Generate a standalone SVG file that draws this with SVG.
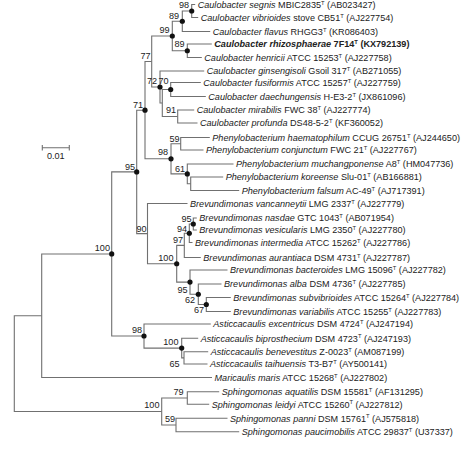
<svg xmlns="http://www.w3.org/2000/svg" width="474" height="450" viewBox="0 0 474 450">
<style>
text{font-family:"Liberation Sans",Arial,sans-serif;font-size:9.1px;fill:#222}
.i{font-style:italic}
.b{font-weight:bold}
.s{font-size:5.8px}
.bs{text-anchor:end}
.c path{fill:none;stroke:#707070;stroke-width:1.1}
.d{fill:#111}
</style>
<rect width="474" height="450" fill="#fff"/>
<g class="c" id="connectors">
<path d="M195.2 4.5H191.7V17.5H198.2"/>
<path d="M191.7 11H182.3V31.5H210.2"/>
<path d="M211.8 44H187.3V57.5H201.8"/>
<path d="M182.3 21.25H172.3V50.75H187.3"/>
<path d="M200.8 82.5H170.7V96.5H205.8"/>
<path d="M194.2 110H177.7V123H197.5"/>
<path d="M170.7 89.5H162.3V116.5H177.7"/>
<path d="M204.2 71H160V103H162.3"/>
<path d="M172.3 36H151.7V87H160"/>
<path d="M209.8 137.5H180.7V150H203.5"/>
<path d="M223.2 177H190.7V190.5H239.2"/>
<path d="M233.5 164H187.3V183.75H190.7"/>
<path d="M180.7 143.75H171V173.9H187.3"/>
<path d="M151.7 61.5H145V158.8H171"/>
<path d="M196.8 218H193.3V230H196.8"/>
<path d="M193.3 224H189.3V242.5H192.5"/>
<path d="M189.3 233.25H184.3V257.5H200.8"/>
<path d="M230.8 297.5H206.3V311.5H230.8"/>
<path d="M221.5 284H198.3V304.5H206.3"/>
<path d="M227.5 270H190V294.25H198.3"/>
<path d="M184.3 245.4H176.7V282.1H190"/>
<path d="M187.5 203.5H147.5V263.75H176.7"/>
<path d="M145 110.2H136.7V233.6H147.5"/>
<path d="M208.2 351.7H184V364H207.5"/>
<path d="M198.2 338.3H181.7V357.85H184"/>
<path d="M210.8 324H144V348.1H181.7"/>
<path d="M136.7 171.9H111.7V336H144"/>
<path d="M111.7 253.95H41.7V377.5H212"/>
<path d="M219.2 391.7H187.3V404.3H209.2"/>
<path d="M227.5 418.3H176V431.7H239.2"/>
<path d="M187.3 398H161.7V425H176"/>
<path d="M41.7 315.7H14.3V411.5H161.7"/>
<path d="M42.3 147.7H69.3M42.3 145V150.4M69.3 145V150.4"/>
</g>
<g id="scale"><text x="55.8" y="159.3" text-anchor="middle">0.01</text></g>
<g id="internal">
<g id="n98a"><circle class="d" cx="191.7" cy="11" r="2.6"/><text class="bs" x="189" y="8.3">98</text></g>
<g id="n89a"><circle class="d" cx="182.3" cy="21.25" r="2.6"/><text class="bs" x="179" y="19">89</text></g>
<g id="n99"><circle class="d" cx="172.3" cy="36" r="2.6"/><text class="bs" x="169.5" y="32.5">99</text></g>
<g id="n89b"><circle class="d" cx="187.3" cy="50.75" r="2.6"/><text class="bs" x="184.5" y="47.3">89</text></g>
<g id="n77"><text class="bs" x="150.5" y="59">77</text></g>
<g id="n72"><circle class="d" cx="160" cy="87" r="2.6"/><text class="bs" x="157" y="84.2">72</text></g>
<g id="n70"><circle class="d" cx="170.7" cy="89.5" r="2.6"/><text class="bs" x="168.7" y="83.5">70</text></g>
<g id="n91"><text class="bs" x="176" y="113.2">91</text></g>
<g id="n71"><circle class="d" cx="145" cy="110.2" r="2.6"/><text class="bs" x="143" y="108.2">71</text></g>
<g id="n59p"><text class="bs" x="179.5" y="142.2">59</text></g>
<g id="n98p"><circle class="d" cx="171" cy="158.8" r="2.6"/><text class="bs" x="168" y="155">98</text></g>
<g id="n61"><circle class="d" cx="187.3" cy="173.9" r="2.6"/><text class="bs" x="185" y="171.5">61</text></g>
<g id="n95"><circle class="d" cx="136.7" cy="171.9" r="2.6"/><text class="bs" x="135" y="170">95</text></g>
<g id="n90"><text class="bs" x="146.5" y="231.5">90</text></g>
<g id="n95s"><circle class="d" cx="193.3" cy="224" r="2.6"/><text class="bs" x="191.5" y="221.5">95</text></g>
<g id="n94"><circle class="d" cx="189.3" cy="233.25" r="2.6"/><text class="bs" x="187" y="231.5">94</text></g>
<g id="n97"><text class="bs" x="183" y="243.2">97</text></g>
<g id="n100b"><circle class="d" cx="176.7" cy="263.75" r="2.6"/><text class="bs" x="173.5" y="260.5">100</text></g>
<g id="n95b"><circle class="d" cx="190" cy="282.1" r="2.6"/><text class="bs" x="187.7" y="292.5">95</text></g>
<g id="n62"><circle class="d" cx="198.3" cy="294.25" r="2.6"/><text class="bs" x="195" y="303.2">62</text></g>
<g id="n67"><circle class="d" cx="206.3" cy="304.5" r="2.6"/><text class="bs" x="204" y="312.5">67</text></g>
<g id="n100u"><circle class="d" cx="111.7" cy="253.95" r="2.6"/><text class="bs" x="110" y="251">100</text></g>
<g id="n98a2"><circle class="d" cx="144" cy="336" r="2.6"/><text class="bs" x="142" y="333.2">98</text></g>
<g id="n100a"><circle class="d" cx="181.7" cy="348.1" r="2.6"/><text class="bs" x="178.5" y="345">100</text></g>
<g id="n65"><text class="bs" x="179.5" y="366.5">65</text></g>
<g id="n100s"><text class="bs" x="159.5" y="408.2">100</text></g>
<g id="n79"><text class="bs" x="183.5" y="395">79</text></g>
<g id="n59s"><text class="bs" x="175" y="421.5">59</text></g>
</g>
<g id="leaves">
<g id="l1"><text x="197.7" y="7.8"><tspan class="i">Caulobacter segnis</tspan> MBIC2835<tspan class="s" dy="-3.3">T</tspan><tspan dy="3.3"> (AB023427)</tspan></text></g>
<g id="l2"><text x="200.7" y="20.8"><tspan class="i">Caulobacter vibrioides</tspan> stove CB51<tspan class="s" dy="-3.3">T</tspan><tspan dy="3.3"> (AJ227754)</tspan></text></g>
<g id="l3"><text x="212.7" y="34.8"><tspan class="i">Caulobacter flavus</tspan> RHGG3<tspan class="s" dy="-3.3">T</tspan><tspan dy="3.3"> (KR086403)</tspan></text></g>
<g id="l4"><text class="b" x="214.3" y="47.3"><tspan class="i">Caulobacter rhizosphaerae</tspan> 7F14<tspan class="s" dy="-3.3">T</tspan><tspan dy="3.3"> (KX792139)</tspan></text></g>
<g id="l5"><text x="204.3" y="60.8"><tspan class="i">Caulobacter henricii</tspan> ATCC 15253<tspan class="s" dy="-3.3">T</tspan><tspan dy="3.3"> (AJ227758)</tspan></text></g>
<g id="l6"><text x="206.7" y="74.3"><tspan class="i">Caulobacter ginsengisoli</tspan> Gsoil 317<tspan class="s" dy="-3.3">T</tspan><tspan dy="3.3"> (AB271055)</tspan></text></g>
<g id="l7"><text x="203.3" y="85.8"><tspan class="i">Caulobacter fusiformis</tspan> ATCC 15257<tspan class="s" dy="-3.3">T</tspan><tspan dy="3.3"> (AJ227759)</tspan></text></g>
<g id="l8"><text x="208.3" y="99.8"><tspan class="i">Caulobacter daechungensis</tspan> H-E3-2<tspan class="s" dy="-3.3">T</tspan><tspan dy="3.3"> (JX861096)</tspan></text></g>
<g id="l9"><text x="196.7" y="113.3"><tspan class="i">Caulobacter mirabilis</tspan> FWC 38<tspan class="s" dy="-3.3">T</tspan><tspan dy="3.3"> (AJ227774)</tspan></text></g>
<g id="l10"><text x="200" y="126.3"><tspan class="i">Caulobacter profunda</tspan> DS48-5-2<tspan class="s" dy="-3.3">T</tspan><tspan dy="3.3"> (KF360052)</tspan></text></g>
<g id="l11"><text x="212.3" y="140.8"><tspan class="i">Phenylobacterium haematophilum</tspan> CCUG 26751<tspan class="s" dy="-3.3">T</tspan><tspan dy="3.3"> (AJ244650)</tspan></text></g>
<g id="l12"><text x="206" y="153.3"><tspan class="i">Phenylobacterium conjunctum</tspan> FWC 21<tspan class="s" dy="-3.3">T</tspan><tspan dy="3.3"> (AJ227767)</tspan></text></g>
<g id="l13"><text x="236" y="167.3"><tspan class="i">Phenylobacterium muchangponense</tspan> A8<tspan class="s" dy="-3.3">T</tspan><tspan dy="3.3"> (HM047736)</tspan></text></g>
<g id="l14"><text x="225.7" y="180.3"><tspan class="i">Phenylobacterium koreense</tspan> Slu-01<tspan class="s" dy="-3.3">T</tspan><tspan dy="3.3"> (AB166881)</tspan></text></g>
<g id="l15"><text x="241.7" y="193.8"><tspan class="i">Phenylobacterium falsum</tspan> AC-49<tspan class="s" dy="-3.3">T</tspan><tspan dy="3.3"> (AJ717391)</tspan></text></g>
<g id="l16"><text x="190" y="206.8"><tspan class="i">Brevundimonas vancanneytii</tspan> LMG 2337<tspan class="s" dy="-3.3">T</tspan><tspan dy="3.3"> (AJ227779)</tspan></text></g>
<g id="l17"><text x="199.3" y="221.3"><tspan class="i">Brevundimonas nasdae</tspan> GTC 1043<tspan class="s" dy="-3.3">T</tspan><tspan dy="3.3"> (AB071954)</tspan></text></g>
<g id="l18"><text x="199.3" y="233.3"><tspan class="i">Brevundimonas vesicularis</tspan> LMG 2350<tspan class="s" dy="-3.3">T</tspan><tspan dy="3.3"> (AJ227780)</tspan></text></g>
<g id="l19"><text x="195" y="245.8"><tspan class="i">Brevundimonas intermedia</tspan> ATCC 15262<tspan class="s" dy="-3.3">T</tspan><tspan dy="3.3"> (AJ227786)</tspan></text></g>
<g id="l20"><text x="203.3" y="260.8"><tspan class="i">Brevundimonas aurantiaca</tspan> DSM 4731<tspan class="s" dy="-3.3">T</tspan><tspan dy="3.3"> (AJ227787)</tspan></text></g>
<g id="l21"><text x="230" y="273.3"><tspan class="i">Brevundimonas bacteroides</tspan> LMG 15096<tspan class="s" dy="-3.3">T</tspan><tspan dy="3.3"> (AJ227782)</tspan></text></g>
<g id="l22"><text x="224" y="287.3"><tspan class="i">Brevundimonas alba</tspan> DSM 4736<tspan class="s" dy="-3.3">T</tspan><tspan dy="3.3"> (AJ227785)</tspan></text></g>
<g id="l23"><text x="233.3" y="300.8"><tspan class="i">Brevundimonas subvibrioides</tspan> ATCC 15264<tspan class="s" dy="-3.3">T</tspan><tspan dy="3.3"> (AJ227784)</tspan></text></g>
<g id="l24"><text x="233.3" y="314.8"><tspan class="i">Brevundimonas variabilis</tspan> ATCC 15255<tspan class="s" dy="-3.3">T</tspan><tspan dy="3.3"> (AJ227783)</tspan></text></g>
<g id="l25"><text x="213.3" y="327.3"><tspan class="i">Asticcacaulis excentricus</tspan> DSM 4724<tspan class="s" dy="-3.3">T</tspan><tspan dy="3.3"> (AJ247194)</tspan></text></g>
<g id="l26"><text x="200.7" y="341.6"><tspan class="i">Asticcacaulis biprosthecium</tspan> DSM 4723<tspan class="s" dy="-3.3">T</tspan><tspan dy="3.3"> (AJ247193)</tspan></text></g>
<g id="l27"><text x="210.7" y="355"><tspan class="i">Asticcacaulis benevestitus</tspan> Z-0023<tspan class="s" dy="-3.3">T</tspan><tspan dy="3.3"> (AM087199)</tspan></text></g>
<g id="l28"><text x="210" y="367.3"><tspan class="i">Asticcacaulis taihuensis</tspan> T3-B7<tspan class="s" dy="-3.3">T</tspan><tspan dy="3.3"> (AY500141)</tspan></text></g>
<g id="l29"><text x="214.5" y="380.8"><tspan class="i">Maricaulis maris</tspan> ATCC 15268<tspan class="s" dy="-3.3">T</tspan><tspan dy="3.3"> (AJ227802)</tspan></text></g>
<g id="l30"><text x="221.7" y="395"><tspan class="i">Sphingomonas aquatilis</tspan> DSM 15581<tspan class="s" dy="-3.3">T</tspan><tspan dy="3.3"> (AF131295)</tspan></text></g>
<g id="l31"><text x="211.7" y="407.6"><tspan class="i">Sphingomonas leidyi</tspan> ATCC 15260<tspan class="s" dy="-3.3">T</tspan><tspan dy="3.3"> (AJ227812)</tspan></text></g>
<g id="l32"><text x="230" y="421.6"><tspan class="i">Sphingomonas panni</tspan> DSM 15761<tspan class="s" dy="-3.3">T</tspan><tspan dy="3.3"> (AJ575818)</tspan></text></g>
<g id="l33"><text x="241.7" y="435"><tspan class="i">Sphingomonas paucimobilis</tspan> ATCC 29837<tspan class="s" dy="-3.3">T</tspan><tspan dy="3.3"> (U37337)</tspan></text></g>
</g>
</svg>
